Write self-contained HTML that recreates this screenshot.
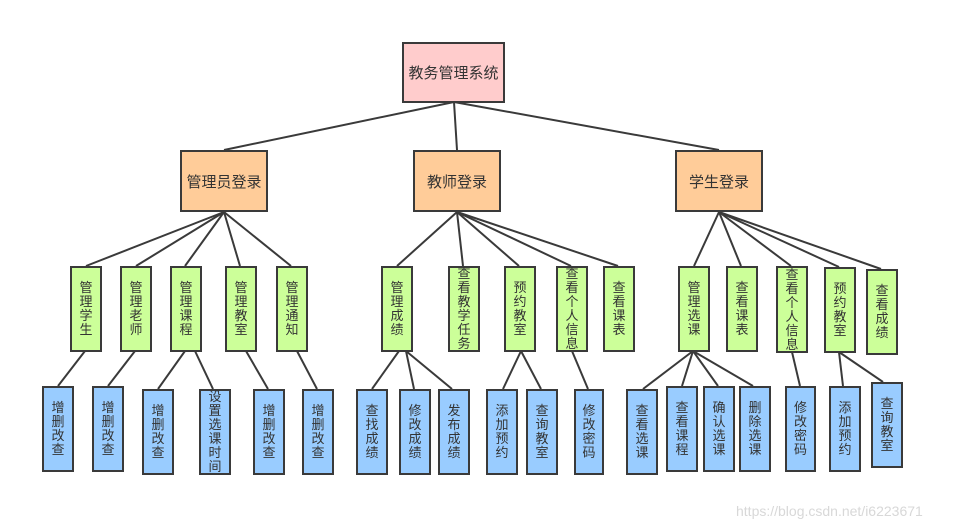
<!DOCTYPE html>
<html><head><meta charset="utf-8"><style>
body{margin:0;width:956px;height:529px;background:#fff;position:relative;overflow:hidden;font-family:"Liberation Sans","Noto Sans CJK SC",sans-serif;}
svg{position:absolute;left:0;top:0}
.b{position:absolute;box-sizing:border-box;border:2px solid #3a3a3a;display:flex;align-items:center;justify-content:center;text-align:center;color:#333;}
.v{font-size:13px;line-height:14px;width:14px;word-break:break-all;}
.g{background:#ccff99}.u{background:#99ccff}.o{background:#ffcc99;font-size:15px}.p{background:#ffcccc;font-size:15px}
.wm{position:absolute;left:736px;top:503px;font-size:14px;color:#d8d8d8;}
</style></head><body>
<svg width="956" height="529" stroke="#3a3a3a" stroke-width="2" fill="none">
<line x1="454" y1="102" x2="224" y2="150"/><line x1="454" y1="102" x2="457" y2="150"/><line x1="454" y1="102" x2="719" y2="150"/>
<line x1="224" y1="212" x2="86" y2="266"/><line x1="224" y1="212" x2="136" y2="266"/><line x1="224" y1="212" x2="185" y2="266"/><line x1="224" y1="212" x2="240" y2="266"/><line x1="224" y1="212" x2="291" y2="266"/>
<line x1="457" y1="212" x2="397" y2="266"/><line x1="457" y1="212" x2="463" y2="266"/><line x1="457" y1="212" x2="519" y2="266"/><line x1="457" y1="212" x2="571" y2="266"/><line x1="457" y1="212" x2="618" y2="266"/>
<line x1="719" y1="212" x2="694" y2="266"/><line x1="719" y1="212" x2="741" y2="266"/><line x1="719" y1="212" x2="791" y2="266"/><line x1="719" y1="212" x2="839" y2="267"/><line x1="719" y1="212" x2="881" y2="269"/>
<line x1="85" y1="351" x2="58" y2="386"/><line x1="135" y1="351" x2="108" y2="386"/><line x1="185" y1="351" x2="158" y2="389"/><line x1="195" y1="351" x2="213" y2="389"/><line x1="246" y1="351" x2="268" y2="389"/><line x1="297" y1="351" x2="317" y2="389"/>
<line x1="399" y1="351" x2="372" y2="389"/><line x1="406" y1="351" x2="414" y2="389"/><line x1="406" y1="351" x2="452" y2="389"/><line x1="521" y1="351" x2="503" y2="389"/><line x1="521" y1="351" x2="541" y2="389"/><line x1="572" y1="351" x2="588" y2="389"/>
<line x1="693" y1="351" x2="643" y2="389"/><line x1="693" y1="351" x2="682" y2="386"/><line x1="693" y1="351" x2="718" y2="386"/><line x1="693" y1="351" x2="753" y2="386"/><line x1="792" y1="352" x2="800" y2="386"/><line x1="839" y1="352" x2="843" y2="386"/><line x1="839" y1="352" x2="883" y2="382"/>
</svg>
<div class="b p" style="left:402px;top:42px;width:103px;height:61px">教务管理系统</div>
<div class="b o" style="left:180px;top:150px;width:88px;height:62px">管理员登录</div>
<div class="b o" style="left:413px;top:150px;width:88px;height:62px">教师登录</div>
<div class="b o" style="left:675px;top:150px;width:88px;height:62px">学生登录</div>

<div class="b g" style="left:70px;top:266px;width:32px;height:86px"><div class="v">管理学生</div></div>
<div class="b g" style="left:120px;top:266px;width:32px;height:86px"><div class="v">管理老师</div></div>
<div class="b g" style="left:170px;top:266px;width:32px;height:86px"><div class="v">管理课程</div></div>
<div class="b g" style="left:225px;top:266px;width:32px;height:86px"><div class="v">管理教室</div></div>
<div class="b g" style="left:276px;top:266px;width:32px;height:86px"><div class="v">管理通知</div></div>
<div class="b g" style="left:381px;top:266px;width:32px;height:86px"><div class="v">管理成绩</div></div>
<div class="b g" style="left:448px;top:266px;width:32px;height:86px"><div class="v">查看教学任务</div></div>
<div class="b g" style="left:504px;top:266px;width:32px;height:86px"><div class="v">预约教室</div></div>
<div class="b g" style="left:556px;top:266px;width:32px;height:86px"><div class="v">查看个人信息</div></div>
<div class="b g" style="left:603px;top:266px;width:32px;height:86px"><div class="v">查看课表</div></div>
<div class="b g" style="left:678px;top:266px;width:32px;height:86px"><div class="v">管理选课</div></div>
<div class="b g" style="left:726px;top:266px;width:32px;height:86px"><div class="v">查看课表</div></div>
<div class="b g" style="left:776px;top:266px;width:32px;height:87px"><div class="v">查看个人信息</div></div>
<div class="b g" style="left:824px;top:267px;width:32px;height:86px"><div class="v">预约教室</div></div>
<div class="b g" style="left:866px;top:269px;width:32px;height:86px"><div class="v">查看成绩</div></div>

<div class="b u" style="left:42px;top:386px;width:32px;height:86px"><div class="v">增删改查</div></div>
<div class="b u" style="left:92px;top:386px;width:32px;height:86px"><div class="v">增删改查</div></div>
<div class="b u" style="left:142px;top:389px;width:32px;height:86px"><div class="v">增删改查</div></div>
<div class="b u" style="left:199px;top:389px;width:32px;height:86px"><div class="v">设置选课时间</div></div>
<div class="b u" style="left:253px;top:389px;width:32px;height:86px"><div class="v">增删改查</div></div>
<div class="b u" style="left:302px;top:389px;width:32px;height:86px"><div class="v">增删改查</div></div>
<div class="b u" style="left:356px;top:389px;width:32px;height:86px"><div class="v">查找成绩</div></div>
<div class="b u" style="left:399px;top:389px;width:32px;height:86px"><div class="v">修改成绩</div></div>
<div class="b u" style="left:438px;top:389px;width:32px;height:86px"><div class="v">发布成绩</div></div>
<div class="b u" style="left:486px;top:389px;width:32px;height:86px"><div class="v">添加预约</div></div>
<div class="b u" style="left:526px;top:389px;width:32px;height:86px"><div class="v">查询教室</div></div>
<div class="b u" style="left:574px;top:389px;width:30px;height:86px"><div class="v">修改密码</div></div>
<div class="b u" style="left:626px;top:389px;width:32px;height:86px"><div class="v">查看选课</div></div>
<div class="b u" style="left:666px;top:386px;width:32px;height:86px"><div class="v">查看课程</div></div>
<div class="b u" style="left:703px;top:386px;width:32px;height:86px"><div class="v">确认选课</div></div>
<div class="b u" style="left:739px;top:386px;width:32px;height:86px"><div class="v">删除选课</div></div>
<div class="b u" style="left:785px;top:386px;width:31px;height:86px"><div class="v">修改密码</div></div>
<div class="b u" style="left:829px;top:386px;width:32px;height:86px"><div class="v">添加预约</div></div>
<div class="b u" style="left:871px;top:382px;width:32px;height:86px"><div class="v">查询教室</div></div>
<div class="wm">https://blog.csdn.net/i6223671</div>
</body></html>
